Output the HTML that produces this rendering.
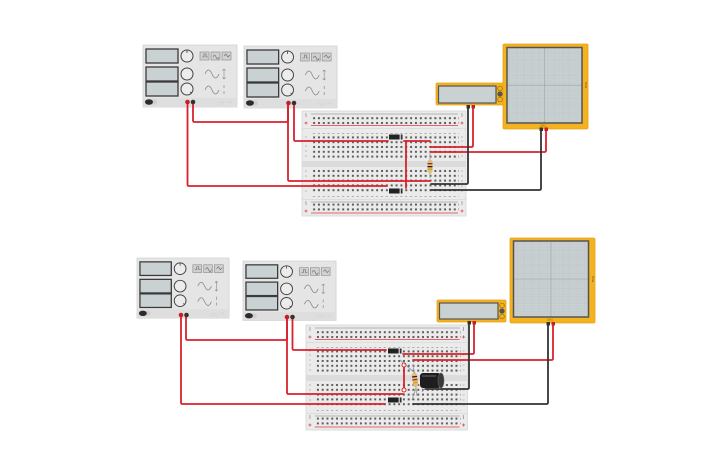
<!DOCTYPE html>
<html><head><meta charset="utf-8"><style>
html,body{margin:0;padding:0;background:#fff;}
svg{display:block;}
</style></head><body>
<svg width="725" height="453" viewBox="0 0 725 453" xmlns="http://www.w3.org/2000/svg" font-family="Liberation Sans, sans-serif">
<defs>
  <pattern id="pTerm" x="0" y="0" width="4.85" height="4.8" patternUnits="userSpaceOnUse">
    <rect x="1.4" y="1.4" width="2" height="2" fill="#5c5c5c"/>
  </pattern>
  <pattern id="pNum" x="0" y="0" width="4.85" height="3" patternUnits="userSpaceOnUse">
    <rect x="1.2" y="1" width="2.2" height="0.9" fill="#a8a8a8"/>
  </pattern>
  <pattern id="pGrid" x="0" y="0" width="7.5" height="7.6" patternUnits="userSpaceOnUse">
    <path d="M7.5 0V7.6M0 7.6H7.5" stroke="#b3bcbf" stroke-width="0.5" fill="none"/>
    <path d="M1.5 0V7.6M3 0V7.6M4.5 0V7.6M6 0V7.6M0 1.5H7.5M0 3H7.5M0 4.5H7.5M0 6H7.5" stroke="#c0c8cb" stroke-width="0.25" fill="none"/>
  </pattern>

  <g id="fg">
    <rect x="0" y="0" width="94" height="62" fill="#e5e5e5" stroke="#d2d2d2" stroke-width="0.8"/>
    <rect x="0" y="53" width="94" height="9" fill="#dedede"/>
    <rect x="3" y="4" width="32" height="14" fill="#c9d1d3" stroke="#3a3a3a" stroke-width="1.3"/>
    <rect x="3" y="22" width="32" height="14" fill="#c9d1d3" stroke="#3a3a3a" stroke-width="1.3"/>
    <rect x="3" y="37" width="32" height="14" fill="#c9d1d3" stroke="#3a3a3a" stroke-width="1.3"/>
    <circle cx="44" cy="11" r="6" fill="#ececec" stroke="#444" stroke-width="1"/>
    <circle cx="44" cy="29" r="6" fill="#ececec" stroke="#444" stroke-width="1"/>
    <circle cx="44" cy="44" r="6" fill="#ececec" stroke="#444" stroke-width="1"/>
    <path d="M44 5V8M47 47l2 1" stroke="#444" stroke-width="0.8"/>
    <rect x="57" y="7" width="9" height="8" fill="#d0d0d0" stroke="#888" stroke-width="0.6"/>
    <rect x="68" y="7" width="9" height="8" fill="#d0d0d0" stroke="#888" stroke-width="0.6"/>
    <rect x="79" y="7" width="9" height="8" fill="#d0d0d0" stroke="#888" stroke-width="0.6"/>
    <path d="M59 12h2v-3h2v3h2M70 12q1.5-4 3 0t3 0M81 11l2-2 2 3 2-2" stroke="#666" stroke-width="0.6" fill="none"/>
    <path d="M62 29q3.5-8 7 0t7 0" stroke="#888" stroke-width="0.8" fill="none"/>
    <path d="M81 24v10M79.5 25.5l1.5-1.5 1.5 1.5M79.5 32.5l1.5 1.5 1.5-1.5" stroke="#888" stroke-width="0.6" fill="none"/>
    <path d="M62 45q3.5-8 7 0t7 0" stroke="#888" stroke-width="0.8" fill="none"/>
    <path d="M81 40v3M81 46v3" stroke="#888" stroke-width="0.7" fill="none"/>
    <rect x="2" y="54.5" width="12" height="5" rx="2.5" fill="#cfcfcf"/>
    <ellipse cx="6" cy="57" rx="4" ry="2.8" fill="#2c2c2c"/>
    <path d="M74 57h8M75 59h7M84 58l3-2 2 3" stroke="#d0d0d0" stroke-width="0.6" fill="none"/>
  </g>

  <g id="bb">
    <rect x="0" y="0" width="164" height="105" fill="#ebebeb" stroke="#d6d6d6" stroke-width="0.8"/>
    <rect x="0" y="17" width="164" height="1" fill="#dddddd"/>
    <rect x="0" y="50" width="164" height="6" fill="#dcdcdc"/>
    <rect x="0" y="88" width="164" height="1" fill="#dddddd"/>
    <line x1="9" y1="3" x2="156" y2="3" stroke="#a0a0a0" stroke-width="0.7"/>
    <line x1="9" y1="14.5" x2="156" y2="14.5" stroke="#e0383e" stroke-width="0.8"/>
    <rect x="9" y="4.6" width="148" height="9.6" fill="url(#pTerm)"/>
    <rect x="9" y="20.5" width="148" height="3" fill="url(#pNum)"/>
    <rect x="9" y="23.6" width="148" height="24" fill="url(#pTerm)"/>
    <rect x="9" y="57.6" width="148" height="24" fill="url(#pTerm)"/>
    <rect x="9" y="83.5" width="148" height="3" fill="url(#pNum)"/>
    <line x1="9" y1="91" x2="156" y2="91" stroke="#a0a0a0" stroke-width="0.7"/>
    <rect x="9" y="91.8" width="148" height="9.6" fill="url(#pTerm)"/>
    <line x1="9" y1="102" x2="156" y2="102" stroke="#e0383e" stroke-width="0.8"/>
    <path d="M4 2v4M160 2v4M4 90v4M160 90v4" stroke="#888" stroke-width="0.7"/>
    <path d="M2.5 12h3M4 10.5v3M158.5 12h3M160 10.5v3M2.5 100h3M4 98.5v3M158.5 100h3M160 98.5v3" stroke="#e0383e" stroke-width="0.7"/>
    <path d="M3 26h2M3 30h2M3 35h2M3 40h2M3 45h2M3 60h2M3 65h2M3 70h2M3 75h2M3 80h2M159 26h2M159 30h2M159 35h2M159 40h2M159 45h2M159 60h2M159 65h2M159 70h2M159 75h2M159 80h2" stroke="#aaa" stroke-width="0.7"/>
  </g>
</defs>

<!-- ================= TOP CIRCUIT ================= -->
<use href="#bb" transform="translate(302,111)"/>
<use href="#fg" transform="translate(143,45)"/>
<use href="#fg" transform="translate(244,46) scale(0.99,1)"/>

<!-- multimeter top -->
<rect x="436" y="83" width="70" height="22" rx="1.5" fill="#f3b220" stroke="#e6a312" stroke-width="0.8"/>
<rect x="438.5" y="86" width="57.5" height="17" fill="#c9d1d3" stroke="#555" stroke-width="1.2"/>
<circle cx="500" cy="88.5" r="2.3" fill="none" stroke="#8a6a10" stroke-width="0.7"/>
<circle cx="500" cy="94" r="2.3" fill="#555" stroke="#555" stroke-width="0.7"/>
<circle cx="500" cy="99.5" r="2.3" fill="none" stroke="#8a6a10" stroke-width="0.7"/>
<!-- scope top -->
<rect x="503" y="44" width="85" height="85" rx="1.5" fill="#f3b220" stroke="#e6a312" stroke-width="0.8"/>
<rect x="507" y="47.5" width="75" height="75.5" fill="#c9d1d3"/>
<rect x="507" y="47.5" width="75" height="75.5" fill="url(#pGrid)"/>
<path d="M544.5 47.5V123M507 85.2H582" stroke="#9aa3a6" stroke-width="0.6"/>
<rect x="507" y="47.5" width="75" height="75.5" fill="none" stroke="#555" stroke-width="1.5"/>
<text x="543" y="126.5" font-size="2.8" fill="#7a5a00" text-anchor="middle">CH1</text>
<text x="585" y="85" font-size="3" fill="#5a4000" text-anchor="middle" transform="rotate(90 585 85)">Time</text>

<!-- top wires -->
<g fill="none" stroke-linejoin="round" stroke-linecap="round">
  <g stroke="#d8222c" stroke-width="1.8">
    <path d="M193 102V120.5q0 1.5 1.5 1.5H286.5q1.5 0 1.5-1.5V103"/>
    <path d="M288 103V179.5q0 1.5 1.5 1.5H430"/>
    <path d="M187.5 102V184.5q0 1.5 1.5 1.5H387"/>
    <path d="M294 103V139.5q0 1.5 1.5 1.5H388"/>
    <path d="M404 141H430"/>
    <path d="M406 141V188"/>
    <path d="M473 107V145.5q0 1.5-1.5 1.5H430"/>
    <path d="M546 130V150.5q0 1.5-1.5 1.5H431"/>
  </g>
  <g stroke="#333" stroke-width="1.8">
    <path d="M468 107V182.5q0 1.5-1.5 1.5H431"/>
    <path d="M541 130V188.5q0 1.5-1.5 1.5H431"/>
  </g>
</g>
<!-- top diodes -->
<rect x="389" y="134.5" width="13.5" height="5" fill="#222"/>
<rect x="399.5" y="134.5" width="1.6" height="5" fill="#bbb"/>
<rect x="389" y="188.5" width="13.5" height="5" fill="#222"/>
<rect x="399.5" y="188.5" width="1.6" height="5" fill="#bbb"/>
<!-- top resistor -->
<line x1="430" y1="153" x2="430" y2="178" stroke="#999" stroke-width="0.8"/>
<rect x="427.5" y="160" width="5" height="13" rx="2" fill="#e0c070"/>
<rect x="427.5" y="163" width="5" height="1.3" fill="#8b2a6b"/>
<rect x="427.5" y="166" width="5" height="1.3" fill="#222"/>
<rect x="427.5" y="168.5" width="5" height="1.3" fill="#d4a017"/>

<!-- terminals top -->
<g>
  <circle cx="187.5" cy="102" r="2.3" fill="#c81e26"/>
  <circle cx="193" cy="102" r="2.3" fill="#333"/>
  <circle cx="288.5" cy="103" r="2.3" fill="#c81e26"/>
  <circle cx="294" cy="103" r="2.3" fill="#333"/>
  <rect x="466.5" y="105" width="3.5" height="3.5" fill="#333"/>
  <rect x="471.5" y="105" width="3.5" height="3.5" fill="#c81e26"/>
  <rect x="539.5" y="127.5" width="3.5" height="3.5" fill="#333"/>
  <rect x="544.5" y="127.5" width="3.5" height="3.5" fill="#c81e26"/>
</g>

<!-- ================= BOTTOM CIRCUIT ================= -->
<use href="#bb" transform="translate(306,325) scale(0.985,1)"/>
<use href="#fg" transform="translate(137,258) scale(0.98,0.97)"/>
<use href="#fg" transform="translate(243,261) scale(0.99,0.96)"/>

<!-- multimeter bottom -->
<rect x="437" y="300" width="69" height="22" rx="1.5" fill="#f3b220" stroke="#e6a312" stroke-width="0.8"/>
<rect x="439.5" y="303" width="58.5" height="16" fill="#c9d1d3" stroke="#555" stroke-width="1.2"/>
<circle cx="502" cy="305.5" r="2.3" fill="none" stroke="#8a6a10" stroke-width="0.7"/>
<circle cx="502" cy="311" r="2.3" fill="#555" stroke="#555" stroke-width="0.7"/>
<circle cx="502" cy="316.5" r="2.3" fill="none" stroke="#8a6a10" stroke-width="0.7"/>
<!-- scope bottom -->
<rect x="510" y="238" width="85" height="85" rx="1.5" fill="#f3b220" stroke="#e6a312" stroke-width="0.8"/>
<rect x="513.5" y="241" width="75" height="76" fill="#c9d1d3"/>
<rect x="513.5" y="241" width="75" height="76" fill="url(#pGrid)"/>
<path d="M551 241V317M513.5 279H588.5" stroke="#9aa3a6" stroke-width="0.6"/>
<rect x="513.5" y="241" width="75" height="76" fill="none" stroke="#555" stroke-width="1.5"/>
<text x="550" y="320.5" font-size="2.8" fill="#7a5a00" text-anchor="middle">CH1</text>
<text x="592" y="279" font-size="3" fill="#5a4000" text-anchor="middle" transform="rotate(90 592 279)">Time</text>

<!-- bottom wires -->
<g fill="none" stroke-linejoin="round" stroke-linecap="round">
  <g stroke="#d8222c" stroke-width="1.8">
    <path d="M186 315V338.5q0 1.5 1.5 1.5H285.5q1.5 0 1.5-1.5V317"/>
    <path d="M287 317V392.5q0 1.5 1.5 1.5H403"/>
    <path d="M181 315V402.5q0 1.5 1.5 1.5H385"/>
    <path d="M292.5 317V348.5q0 1.5 1.5 1.5H386"/>
    <path d="M474 323V352.5q0 1.5-1.5 1.5H403"/>
    <path d="M553 324V358.5q0 1.5-1.5 1.5H413"/>
    <path d="M404 365V390"/>
  </g>
  <circle cx="404" cy="365" r="2" stroke="#d8222c" stroke-width="1" fill="#fff"/>
  <circle cx="404" cy="390" r="2" stroke="#d8222c" stroke-width="1" fill="#fff"/>
  <g stroke="#333" stroke-width="1.8">
    <path d="M469 323V387.5q0 1.5-1.5 1.5H425"/>
    <path d="M548 324V402.5q0 1.5-1.5 1.5H413"/>
  </g>
</g>
<!-- bottom diodes -->
<rect x="388" y="348.5" width="13.5" height="5" fill="#222"/>
<rect x="398.5" y="348.5" width="1.6" height="5" fill="#bbb"/>
<rect x="388" y="397.5" width="13.5" height="5" fill="#222"/>
<rect x="398.5" y="397.5" width="1.6" height="5" fill="#bbb"/>
<!-- capacitor leads -->
<path d="M400 360L416 374M416 388L412 400M428 384L422 392" stroke="#999" stroke-width="0.9" fill="none"/>
<!-- bottom resistor -->
<line x1="413" y1="364" x2="417" y2="396" stroke="#999" stroke-width="0.8"/>
<g transform="rotate(-8 415 380)">
  <rect x="412.5" y="373" width="5" height="14" rx="2" fill="#e0c070"/>
  <rect x="412.5" y="376" width="5" height="1.3" fill="#222"/>
  <rect x="412.5" y="379" width="5" height="1.3" fill="#c81e26"/>
  <rect x="412.5" y="382" width="5" height="1.3" fill="#d4a017"/>
</g>
<!-- capacitor -->
<rect x="420" y="373" width="21" height="15" rx="3" fill="#1e1e1e"/>
<ellipse cx="441" cy="380.5" rx="3" ry="7.5" fill="#3a3a3a" stroke="#666" stroke-width="0.6"/>
<rect x="422" y="375" width="14" height="2" fill="#444"/>

<!-- terminals bottom -->
<g>
  <circle cx="181" cy="315" r="2.3" fill="#c81e26"/>
  <circle cx="186.5" cy="315" r="2.3" fill="#333"/>
  <circle cx="287" cy="317" r="2.3" fill="#c81e26"/>
  <circle cx="292.5" cy="317" r="2.3" fill="#333"/>
  <rect x="467.5" y="321" width="3.5" height="3.5" fill="#333"/>
  <rect x="472.5" y="321" width="3.5" height="3.5" fill="#c81e26"/>
  <rect x="546.5" y="322" width="3.5" height="3.5" fill="#333"/>
  <rect x="551.5" y="322" width="3.5" height="3.5" fill="#c81e26"/>
</g>
</svg>
</body></html>
